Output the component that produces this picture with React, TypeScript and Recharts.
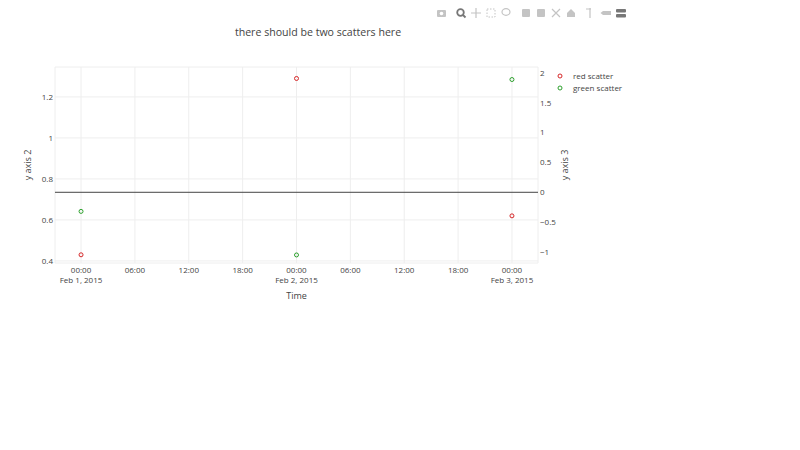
import React from 'react';
import { ScatterChart, Scatter, XAxis, YAxis, CartesianGrid, ReferenceLine, Legend } from 'recharts';

// hours since Feb 1, 2015 00:00
const redScatter = [
  { x: 0, y: 0.43 },
  { x: 24, y: 1.29 },
  { x: 48, y: 0.62 },
];
const greenScatter = [
  { x: 0, y: -0.32 },
  { x: 24, y: -1.05 },
  { x: 48, y: 1.89 },
];
const xTicks = [0, 6, 12, 18, 24, 30, 36, 42, 48];
const xTickTime = ['00:00', '06:00', '12:00', '18:00', '00:00', '06:00', '12:00', '18:00', '00:00'];
const xTickDate = ['Feb 1, 2015', '', '', '', 'Feb 2, 2015', '', '', '', 'Feb 3, 2015'];
const leftTicks = [0.4, 0.6, 0.8, 1, 1.2];
const rightTicks = [-1, -0.5, 0, 0.5, 1, 1.5, 2];

const FONT = '"Open Sans", sans-serif';
const TXT = '#444';
const TICK = 8;
const AX = 9;

const XTick = (props: any) => {
  const { x, y, payload } = props;
  const i = xTicks.indexOf(payload.value);
  return (
    <g>
      <text x={x} y={y + 8} textAnchor="middle" fontSize={TICK} fill={TXT} fontFamily={FONT}>{xTickTime[i]}</text>
      {xTickDate[i] ? (
        <text x={x} y={y + 18} textAnchor="middle" fontSize={TICK} fill={TXT} fontFamily={FONT}>{xTickDate[i]}</text>
      ) : null}
    </g>
  );
};

const fmt = (v: number) => (v < 0 ? '\u2212' + Math.abs(v) : String(v));

const dot = (color: string) => (p: any) => (
  <circle cx={p.cx} cy={p.cy} r={2} fill="none" stroke={color} strokeWidth={1} />
);

const LegendContent = () => (
  <svg width={120} height={30} style={{ overflow: 'visible', position: 'absolute', left: 0, top: 0 }}>
    <circle cx={5} cy={8} r={2} fill="none" stroke="#d62728" strokeWidth={1} />
    <text x={18} y={11} fontSize={TICK} fill={TXT} fontFamily={FONT}>red scatter</text>
    <circle cx={5} cy={20} r={2} fill="none" stroke="#2ca02c" strokeWidth={1} />
    <text x={18} y={23} fontSize={TICK} fill={TXT} fontFamily={FONT}>green scatter</text>
  </svg>
);

const ModeBar = () => {
  const c = '#c4c4c4';
  const dk = '#777';
  return (
    <svg width={800} height={30} style={{ position: 'absolute', left: 0, top: 0 }}>
      <g fill={c}>
        <rect x={437} y={10} width={9} height={7} rx={1} />
        <circle cx={441.5} cy={13.5} r={1.8} fill="#fff" />
        <circle cx={460.5} cy={12.5} r={3.3} fill="none" stroke={dk} strokeWidth={1.8} />
        <line x1={463} y1={15} x2={465.5} y2={17.5} stroke={dk} strokeWidth={1.8} />
        <path d="M476 8 v10 M471 13 h10" stroke={c} strokeWidth={1.2} />
        <rect x={487} y={9} width={8} height={8} fill="none" stroke={c} strokeDasharray="1.5 1.5" />
        <ellipse cx={506} cy={12} rx={4} ry={3.3} fill="none" stroke={c} strokeWidth={1.2} />
        <rect x={522} y={9} width={8} height={8} rx={1} />
        <rect x={537} y={9} width={8} height={8} rx={1} />
        <path d="M552 9 l8 8 M560 9 l-8 8" stroke={c} strokeWidth={1.2} />
        <path d="M567 13 l4 -4 l4 4 v4 h-8 z" />
        <path d="M590 8 v10 M586 9 h5" stroke={c} strokeWidth={1.2} />
        <path d="M603 11 h8 v4 h-8 l-2.5 -2 z" />
        <rect x={616} y={9} width={10} height={3.5} rx={1} fill={dk} />
        <rect x={616} y={14} width={10} height={3.5} rx={1} fill={dk} />
      </g>
    </svg>
  );
};

export default function App() {
  return (
    <div style={{ position: 'absolute', left: 0, top: 0, width: 800, height: 450, background: '#fff' }}>
      <ModeBar />
      <svg width={800} height={50} style={{ position: 'absolute', left: 0, top: 0 }}>
        <text x={318} y={36} textAnchor="middle" fontSize={10.6} fill={TXT} fontFamily={FONT}>there should be two scatters here</text>
      </svg>
      <div style={{ position: 'absolute', left: 0, top: 0 }}>
        <ScatterChart width={800} height={450} margin={{ top: 67, right: 202, bottom: 147, left: 0 }}>
          <CartesianGrid stroke="#eee" yAxisId="y2" />
          <XAxis
            type="number"
            dataKey="x"
            domain={[-2.9, 50.9]}
            ticks={xTicks}
            allowDataOverflow
            axisLine={false}
            tickLine={false}
            tickSize={0}
            tickMargin={2}
            height={40}
            tick={<XTick />}
            label={{ value: 'Time', position: 'insideBottom', offset: 4, fontSize: AX, fill: TXT, fontFamily: FONT }}
          />
          <YAxis
            yAxisId="y2"
            orientation="left"
            type="number"
            dataKey="y"
            domain={[0.39, 1.346]}
            ticks={leftTicks}
            allowDataOverflow
            axisLine={false}
            tickLine={false}
            tickSize={0}
            tickMargin={2}
            width={55}
            tick={{ fontSize: TICK, fill: TXT, fontFamily: FONT }}
            label={{ value: 'y axis 2', angle: -90, position: 'insideLeft', offset: 28, fontSize: AX, fill: TXT, fontFamily: FONT, style: { textAnchor: 'middle' } }}
          />
          <YAxis
            yAxisId="y3"
            orientation="right"
            type="number"
            dataKey="y"
            domain={[-1.185, 2.1]}
            ticks={rightTicks}
            allowDataOverflow
            axisLine={false}
            tickLine={false}
            tickSize={0}
            tickMargin={2}
            width={60}
            tickFormatter={fmt}
            tick={{ fontSize: TICK, fill: TXT, fontFamily: FONT }}
            label={{ value: 'y axis 3', angle: -90, position: 'insideRight', offset: 33, fontSize: AX, fill: TXT, fontFamily: FONT, style: { textAnchor: 'middle' } }}
          />
          <ReferenceLine yAxisId="y3" y={0} stroke="#444" strokeWidth={1} />
          <Legend
            verticalAlign="top"
            align="left"
            content={<LegendContent />}
            wrapperStyle={{ position: 'absolute', left: 555, top: 68, width: 0, height: 0, overflow: 'visible' }}
          />
          <Scatter name="red scatter" data={redScatter} yAxisId="y2" shape={dot('#d62728')} isAnimationActive={false} />
          <Scatter name="green scatter" data={greenScatter} yAxisId="y3" shape={dot('#2ca02c')} isAnimationActive={false} />
        </ScatterChart>
      </div>
    </div>
  );
}
